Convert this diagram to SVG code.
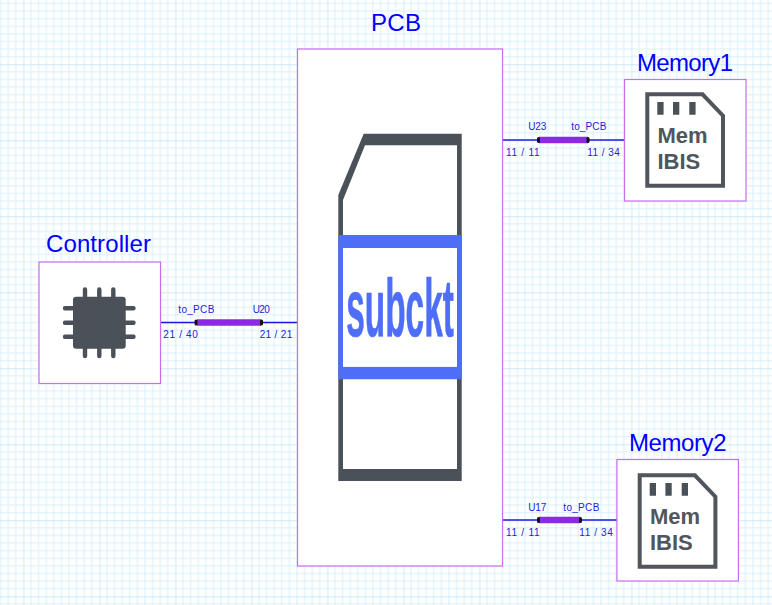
<svg xmlns="http://www.w3.org/2000/svg" width="772" height="605" viewBox="0 0 772 605">
<style>
.box{fill:#fff;stroke:#c86cf0;stroke-width:1.2}
.title{font-family:"Liberation Sans",Arial,sans-serif;font-size:24px;fill:#0000ff}
.lbl{font-family:"Liberation Sans",Arial,sans-serif;font-size:10px;fill:#2222e0}
.wire{stroke:#1a1ae6;stroke-width:1.3;fill:none}
.bus{stroke:#8a2be2;stroke-width:6.4;fill:none}
.cap{stroke:#111;stroke-width:3;stroke-linecap:round;fill:none}
.ico{fill:#4b5158}
.mem{font-family:"Liberation Sans",Arial,sans-serif;font-size:22px;font-weight:bold;fill:#50565c}
</style>
<defs>
<pattern id="grid" width="76" height="76" patternUnits="userSpaceOnUse" patternTransform="translate(23.4 64.3)">
<rect width="76" height="76" fill="#fff"/>
<path d="M7.6 0V76M15.2 0V76M22.8 0V76M30.4 0V76M38 0V76M45.6 0V76M53.2 0V76M60.8 0V76M68.4 0V76M0 7.6H76M0 15.2H76M0 22.8H76M0 30.4H76M0 38H76M0 45.6H76M0 53.2H76M0 60.8H76M0 68.4H76" stroke="#d8f0fc" stroke-width="1" fill="none"/>
<path d="M0 0V76M0 0H76" stroke="#b9e4f9" stroke-width="1.3" fill="none"/>
</pattern>
</defs>
<rect id="background" width="772" height="605" fill="url(#grid)"/>
<g id="connectors">
<path class="wire" d="M160.5 322.5H297.5"/>
<path class="bus" d="M197 322.5H261"/>
<path class="cap" d="M196 321V324M261.5 321V324"/>
<path class="wire" d="M502.5 140H624.5"/>
<path class="bus" d="M539 140H588"/>
<path class="cap" d="M538.5 138.5V141.5M588 138.5V141.5"/>
<path class="wire" d="M502.5 520H617"/>
<path class="bus" d="M539 520H580"/>
<path class="cap" d="M538.5 518.5V521.5M580.5 518.5V521.5"/>
<text class="lbl" x="178.3" y="312.7" textLength="36">to_PCB</text>
<text class="lbl" x="252.7" y="312.7" textLength="17">U20</text>
<text class="lbl" x="163.3" y="337.7" textLength="34.5">21 / 40</text>
<text class="lbl" x="259.7" y="337.7" textLength="32.5">21 / 21</text>
<text class="lbl" x="528.3" y="129.7" textLength="18">U23</text>
<text class="lbl" x="571.3" y="129.7" textLength="35">to_PCB</text>
<text class="lbl" x="506" y="155.7" textLength="33.5">11 / 11</text>
<text class="lbl" x="587.3" y="155.7" textLength="32.5">11 / 34</text>
<text class="lbl" x="528.3" y="510.7" textLength="18">U17</text>
<text class="lbl" x="563.3" y="510.7" textLength="36">to_PCB</text>
<text class="lbl" x="506" y="535.7" textLength="33.5">11 / 11</text>
<text class="lbl" x="579.3" y="535.7" textLength="33.5">11 / 34</text>
</g>
<g id="Controller">
<rect class="box" x="39" y="262" width="121.5" height="121.5"/>
<rect class="ico" x="73" y="296.7" width="52.7" height="52" rx="3"/>
<path d="M85 289.5V356M99.3 289.5V356M113.3 289.5V356M65 308.3H133.5M65 322.7H133.5M65 336.7H133.5" stroke="#4b5158" stroke-width="4.4" stroke-linecap="round" fill="none"/>
<text class="title" x="46" y="252.3" textLength="105">Controller</text>
</g>
<g id="PCB">
<rect class="box" x="297.5" y="49" width="205" height="517"/>
<path class="ico" fill-rule="evenodd" d="M363.7 133.7H461.7V481H338.3V195ZM365 145.3L343 200V469H457V145.3Z"/>
<path fill="#4f6ef7" fill-rule="evenodd" d="M338.3 235H462V379.3H338.3ZM343 248V366.7H457V248Z"/>
<rect x="343" y="248" width="114" height="118.7" fill="#fff"/>
<text x="346.3" y="336" font-family="Liberation Sans,Arial,sans-serif" font-size="81" font-weight="bold" fill="#4f6ef7" stroke="#4f6ef7" stroke-width=".7" textLength="107.5" lengthAdjust="spacingAndGlyphs">subckt</text>
<text class="title" x="371" y="31" textLength="50">PCB</text>
</g>
<g id="Memory1">
<rect class="box" x="624.5" y="79.5" width="121.5" height="121.5"/>
<path fill="none" stroke="#50565c" stroke-width="4" d="M647.3 94.3H702.5L723 115.7V185.7H647.3Z"/>
<path class="ico" d="M657.3 102h6.3v12.7h-6.3zM673 102h6.3v12.7H673zM689.3 102h6.3v12.7h-6.3z"/>
<text class="mem" x="657.5" y="143">Mem</text>
<text class="mem" x="657.5" y="169">IBIS</text>
<text class="title" x="637" y="71" textLength="96">Memory1</text>
</g>
<g id="Memory2">
<rect class="box" x="616.9" y="459.5" width="121.5" height="121.5"/>
<path fill="none" stroke="#50565c" stroke-width="4" d="M639.7 475.3H694.9L715.4 496.7V566.7H639.7Z"/>
<path class="ico" d="M649.7 483h6.3v12.7h-6.3zM665.4 483h6.3v12.7h-6.3zM681.7 483h6.3v12.7h-6.3z"/>
<text class="mem" x="649.9" y="524">Mem</text>
<text class="mem" x="649.9" y="550">IBIS</text>
<text class="title" x="629" y="451" textLength="97.5">Memory2</text>
</g>
</svg>
